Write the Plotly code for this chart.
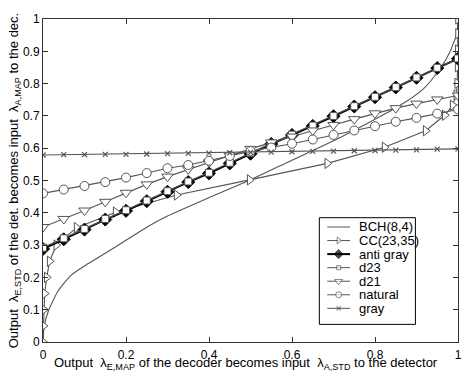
import plotly.graph_objects as go

# ---- data ----
x_grid = [0, 0.05, 0.1, 0.15, 0.2, 0.25, 0.3, 0.35, 0.4, 0.45, 0.5,
          0.55, 0.6, 0.65, 0.7, 0.75, 0.8, 0.85, 0.9, 0.95, 1.0]

bch_x = [0, 0.003, 0.013, 0.036, 0.068, 0.108, 0.148, 0.2, 0.256, 0.3, 0.4,
         0.5, 0.6, 0.7, 0.789, 0.86, 0.916, 0.955, 0.979, 0.997, 1.0]
bch_y = [0, 0.05, 0.096, 0.157, 0.207, 0.242, 0.273, 0.315, 0.36, 0.39, 0.447,
         0.502, 0.563, 0.623, 0.682, 0.732, 0.783, 0.843, 0.894, 0.955, 1.0]

cc_x = [0, 0.001, 0.002, 0.004, 0.009, 0.016, 0.032, 0.081, 0.175, 0.322, 0.498,
        0.685, 0.823, 0.922, 0.968, 0.987, 0.996, 0.998, 0.999, 0.9995, 1.0, 1.0]
cc_y = [0, 0.05, 0.10, 0.15, 0.20, 0.25, 0.30, 0.354, 0.402, 0.455, 0.502,
        0.553, 0.603, 0.654, 0.702, 0.733, 0.765, 0.801, 0.852, 0.904, 0.955, 1.0]

anti_gray = [0.288, 0.318, 0.348, 0.379, 0.406, 0.436, 0.465, 0.495, 0.522, 0.553, 0.583,
             0.613, 0.641, 0.669, 0.699, 0.729, 0.758, 0.788, 0.818, 0.848, 0.877]
d23 = [0.292, 0.321, 0.350, 0.381, 0.408, 0.438, 0.467, 0.497, 0.524, 0.555, 0.585,
       0.614, 0.642, 0.670, 0.700, 0.730, 0.759, 0.789, 0.819, 0.849, 0.878]
d21 = [0.356, 0.381, 0.407, 0.434, 0.462, 0.488, 0.512, 0.535, 0.556, 0.577, 0.598,
       0.618, 0.636, 0.655, 0.672, 0.690, 0.708, 0.724, 0.738, 0.751, 0.763]
natural = [0.460, 0.472, 0.483, 0.495, 0.509, 0.523, 0.538, 0.548, 0.561, 0.576, 0.591,
           0.602, 0.614, 0.627, 0.641, 0.655, 0.668, 0.682, 0.694, 0.707, 0.720]
gray = [0.579, 0.580, 0.580, 0.581, 0.581, 0.582, 0.583, 0.584, 0.585, 0.586, 0.587,
        0.588, 0.589, 0.590, 0.591, 0.592, 0.593, 0.594, 0.595, 0.597, 0.598]

series_names = ["BCH(8,4)", "CC(23,35)", "anti gray", "d23", "d21", "natural", "gray"]

x_ticks = [0, 0.2, 0.4, 0.6, 0.8, 1]
x_ticklabels = ["0", "0.2", "0.4", "0.6", "0.8", "1"]
y_ticks = [0, 0.1, 0.2, 0.3, 0.4, 0.5, 0.6, 0.7, 0.8, 0.9, 1]
y_ticklabels = ["0", "0.1", "0.2", "0.3", "0.4", "0.5", "0.6", "0.7", "0.8", "0.9", "1"]

LC = "#555555"
FONT = "Liberation Sans, Arial, sans-serif"

styles = {
    "BCH(8,4)": dict(mode="lines", line=dict(color=LC, width=1.1)),
    "CC(23,35)": dict(mode="lines+markers", line=dict(color=LC, width=1.1),
                      marker=dict(symbol="triangle-right", size=9, color="white",
                                  line=dict(color=LC, width=1))),
    "anti gray": dict(mode="lines+markers", line=dict(color="black", width=2),
                      marker=dict(symbol="diamond", size=10, color="black",
                                  line=dict(color="black", width=1))),
    "d23": dict(mode="lines+markers", line=dict(color=LC, width=1.1),
                marker=dict(symbol="square", size=7, color="white",
                            line=dict(color=LC, width=1))),
    "d21": dict(mode="lines+markers", line=dict(color=LC, width=1.1),
                marker=dict(symbol="triangle-down", size=10, color="white",
                            line=dict(color=LC, width=1))),
    "natural": dict(mode="lines+markers", line=dict(color=LC, width=1.1),
                    marker=dict(symbol="circle", size=9, color="white",
                                line=dict(color=LC, width=1))),
    "gray": dict(mode="lines+markers", line=dict(color=LC, width=1.1),
                 marker=dict(symbol="x-thin", size=5, color=LC,
                             line=dict(color=LC, width=1.2))),
}

series_xy = {
    "BCH(8,4)": (bch_x, bch_y),
    "CC(23,35)": (cc_x, cc_y),
    "anti gray": (x_grid, anti_gray),
    "d23": (x_grid, d23),
    "d21": (x_grid, d21),
    "natural": (x_grid, natural),
    "gray": (x_grid, gray),
}

fig = go.Figure()
for name in series_names:
    xs, ys = series_xy[name]
    st = dict(styles[name])
    if name == "BCH(8,4)":
        st["line"] = dict(color=LC, width=1.1, shape="spline", smoothing=0.6)
    fig.add_trace(go.Scatter(x=xs, y=ys, name=name, showlegend=False, **st))

# ---- hand-built compact legend (MATLAB style), on an overlay pixel-unit axis ----
leg_left, leg_right, leg_top, leg_bottom = 322, 419, 215, 324
leg_row0, leg_dy = 224.5, 13.85
fig.add_shape(type="rect", xref="x2", yref="y2", x0=leg_left, x1=leg_right,
              y0=leg_top, y1=leg_bottom, line=dict(color="black", width=1),
              fillcolor="white", layer="below")
for i, name in enumerate(series_names):
    yy = leg_row0 + i * leg_dy
    st = dict(styles[name])
    line = dict(st["line"])
    if name != "anti gray":
        line["width"] = 1
    if name == "BCH(8,4)":
        fig.add_trace(go.Scatter(x=[330, 353], y=[yy, yy], xaxis="x2", yaxis="y2",
                                 mode="lines", line=line, showlegend=False, hoverinfo="skip"))
    else:
        mk = dict(st["marker"])
        msize = max(4, mk["size"] - 3)
        mk["size"] = [0, msize, 0]
        fig.add_trace(go.Scatter(x=[330, 341.5, 353], y=[yy, yy, yy], xaxis="x2", yaxis="y2",
                                 mode="lines+markers", line=line, marker=mk,
                                 showlegend=False, hoverinfo="skip"))
    fig.add_annotation(xref="x2", yref="y2", x=360, y=yy, text=name, showarrow=False,
                       xanchor="left", yanchor="middle",
                       font=dict(size=13, color="black", family=FONT))

axis_common = dict(showgrid=False, zeroline=False, showline=True, linecolor="#333333",
                   linewidth=1, mirror="ticks", ticks="inside", ticklen=5,
                   tickcolor="#333333", tickfont=dict(size=12, color="black", family=FONT))

fig.update_xaxes(range=[0, 1], tickvals=x_ticks, ticktext=x_ticklabels,
                 ticklabelstandoff=2, **axis_common)
fig.update_yaxes(range=[0, 1], tickvals=y_ticks, ticktext=y_ticklabels, **axis_common)

fig.update_layout(
    xaxis2=dict(overlaying="x", range=[43, 462], visible=False, domain=[0, 1]),
    yaxis2=dict(overlaying="y", range=[342, 12], visible=False, domain=[0, 1]),
)

fig.add_annotation(xref="paper", yref="paper", x=0.49, y=-0.068, showarrow=False,
                   xanchor="center", yanchor="middle",
                   text="Output\u00a0\u00a0λ<sub>E,MAP</sub> of the decoder becomes input\u00a0\u00a0λ<sub>A,STD</sub> to the detector",
                   font=dict(size=13, color="black", family=FONT))
fig.add_annotation(xref="paper", yref="paper", x=-0.068, y=0.5, showarrow=False,
                   xanchor="center", yanchor="middle", textangle=-90,
                   text="Output\u00a0\u00a0λ<sub>E,STD</sub> of the det. becomes input\u00a0\u00a0λ<sub>A,MAP</sub> to the dec.",
                   font=dict(size=13, color="black", family=FONT))

fig.update_layout(
    width=474, height=375,
    margin=dict(l=43, r=12, t=12, b=33),
    plot_bgcolor="white", paper_bgcolor="white",
    font=dict(family=FONT, color="black"),
    showlegend=False,
    hovermode=False,
)

fig.write_html("out.html",
               config={"displayModeBar": False},
               post_script="document.body.style.margin='0';document.body.style.padding='0';")
